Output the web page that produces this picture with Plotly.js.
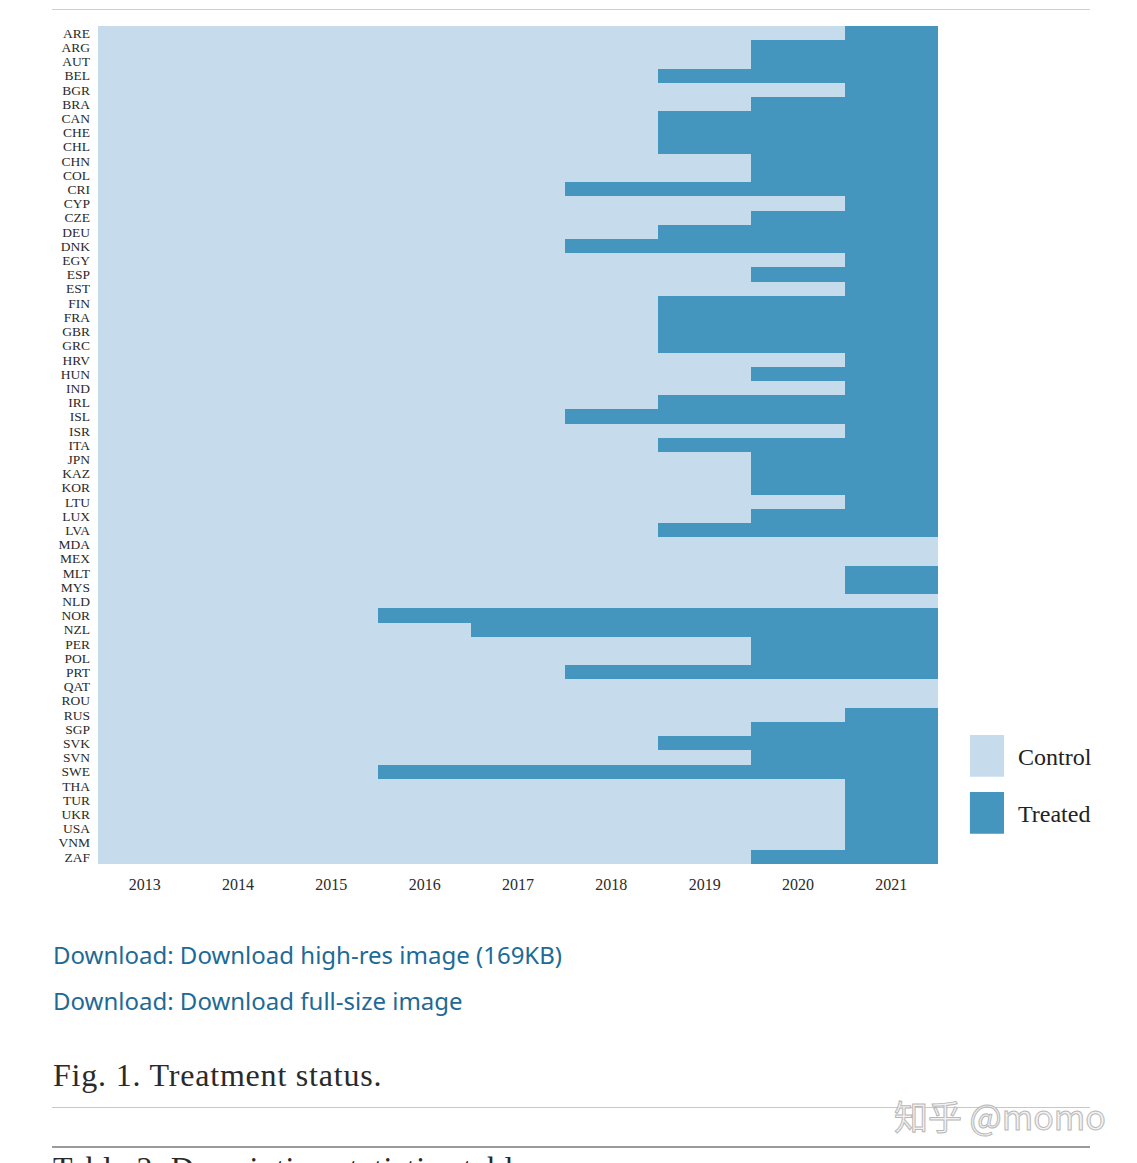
<!DOCTYPE html>
<html>
<head>
<meta charset="utf-8">
<script src="https://cdn.plot.ly/plotly-3.0.1.min.js"></script>
<style>
  html, body { margin:0; padding:0; background:#fff; width:1137px; height:1163px; overflow:hidden; position:relative; }
  #chart { position:absolute; left:0; top:0; width:1137px; height:910px; }
  .hr { position:absolute; left:52px; width:1038px; }
  .dl { position:absolute; left:53px; font-family:"Noto Sans","Open Sans",sans-serif; font-size:24px; color:#1e6a96; white-space:nowrap; }
  .cap { position:absolute; left:53px; font-family:"Liberation Serif","DejaVu Serif",serif; font-size:32px; letter-spacing:0.8px; color:#2a2a2a; white-space:nowrap; }
  .wm { position:absolute; left:894px; top:1091px; font-family:"Noto Sans CJK SC",sans-serif; font-size:34px; color:#f2f2f2; -webkit-text-stroke:1px #b8b8b8; white-space:nowrap; }
</style>
</head>
<body>
<div class="hr" style="top:9px;border-top:1px solid #cfcfcf;"></div>
<div id="chart"></div>
<div class="dl" style="top:938px;">Download: Download high-res image (169KB)</div>
<div class="dl" style="top:984px;">Download: Download full-size image</div>
<div class="cap" style="top:1057px;">Fig. 1. Treatment status.</div>
<div class="hr" style="top:1107px;border-top:1px solid #c8c8c8;"></div>
<div class="hr" style="top:1146px;border-top:2px solid #9a9a9a;"></div>
<div class="cap" style="top:1150px;">Table 2. Descriptive statistics table.</div>
<div class="wm">知乎 @momo</div>
<script>
const countries = ["ARE","ARG","AUT","BEL","BGR","BRA","CAN","CHE","CHL","CHN","COL","CRI","CYP","CZE","DEU","DNK","EGY","ESP","EST","FIN","FRA","GBR","GRC","HRV","HUN","IND","IRL","ISL","ISR","ITA","JPN","KAZ","KOR","LTU","LUX","LVA","MDA","MEX","MLT","MYS","NLD","NOR","NZL","PER","POL","PRT","QAT","ROU","RUS","SGP","SVK","SVN","SWE","THA","TUR","UKR","USA","VNM","ZAF"];
const years = ["2013","2014","2015","2016","2017","2018","2019","2020","2021"];
// first year of treatment for each country (null = never treated)
const treatStart = [2021,2020,2020,2019,2021,2020,2019,2019,2019,2020,2020,2018,2021,2020,2019,2018,2021,2020,2021,2019,2019,2019,2019,2021,2020,2021,2019,2018,2021,2019,2020,2020,2020,2021,2020,2019,null,null,2021,2021,null,2016,2017,2020,2020,2018,null,null,2021,2020,2019,2020,2016,2021,2021,2021,2021,2021,2020];
const statusLabels = ["Control","Treated"];
const controlColor = "#c6dcec";
const treatedColor = "#4596bf";

const z = countries.map((c, i) => years.map(y => (treatStart[i] !== null && +y >= treatStart[i]) ? 1 : 0));
const text = z.map(r => r.map(v => statusLabels[v]));

const trace = {
  type: "heatmap",
  x: years, y: countries, z: z, text: text,
  zmin: 0, zmax: 1,
  colorscale: [[0, controlColor],[0.5, controlColor],[0.5, treatedColor],[1, treatedColor]],
  showscale: false,
  hovertemplate: "%{y} %{x}: %{text}<extra></extra>"
};

const serif = "Liberation Serif, Times New Roman, serif";
const shapes = [
  {type:"rect", xref:"paper", yref:"paper", x0:1.038, x1:1.0786, y0:0.104, y1:0.154, fillcolor:controlColor, line:{width:0}},
  {type:"rect", xref:"paper", yref:"paper", x0:1.038, x1:1.0786, y0:0.036, y1:0.086, fillcolor:treatedColor, line:{width:0}}
];
const annotations = [
  {xref:"paper", yref:"paper", x:1.093, y:0.1275, xanchor:"left", yanchor:"middle", text:statusLabels[0], showarrow:false, font:{family:serif, size:24, color:"#222"}},
  {xref:"paper", yref:"paper", x:1.093, y:0.0595, xanchor:"left", yanchor:"middle", text:statusLabels[1], showarrow:false, font:{family:serif, size:24, color:"#222"}}
];

const layout = {
  width: 1137, height: 910,
  margin: {l: 98, r: 199, t: 26, b: 46, pad: 0},
  paper_bgcolor: "rgba(0,0,0,0)", plot_bgcolor: "#fff",
  xaxis: {type:"category", showgrid:false, zeroline:false, ticks:"", ticklabelstandoff: 9,
          tickmode:"array", tickvals: years, ticktext: years,
          tickfont:{family:serif, size:16, color:"#2a2a2a"}, fixedrange:true},
  yaxis: {type:"category", autorange:"reversed", showgrid:false, zeroline:false, ticks:"", ticklabelstandoff: 7,
          tickmode:"array", tickvals: countries, ticktext: countries,
          tickfont:{family:serif, size:13.5, color:"#2a2a2a"}, fixedrange:true},
  shapes: shapes, annotations: annotations,
  showlegend: false
};
Plotly.newPlot("chart", [trace], layout, {displayModeBar:false, staticPlot:true});
</script>
</body>
</html>
